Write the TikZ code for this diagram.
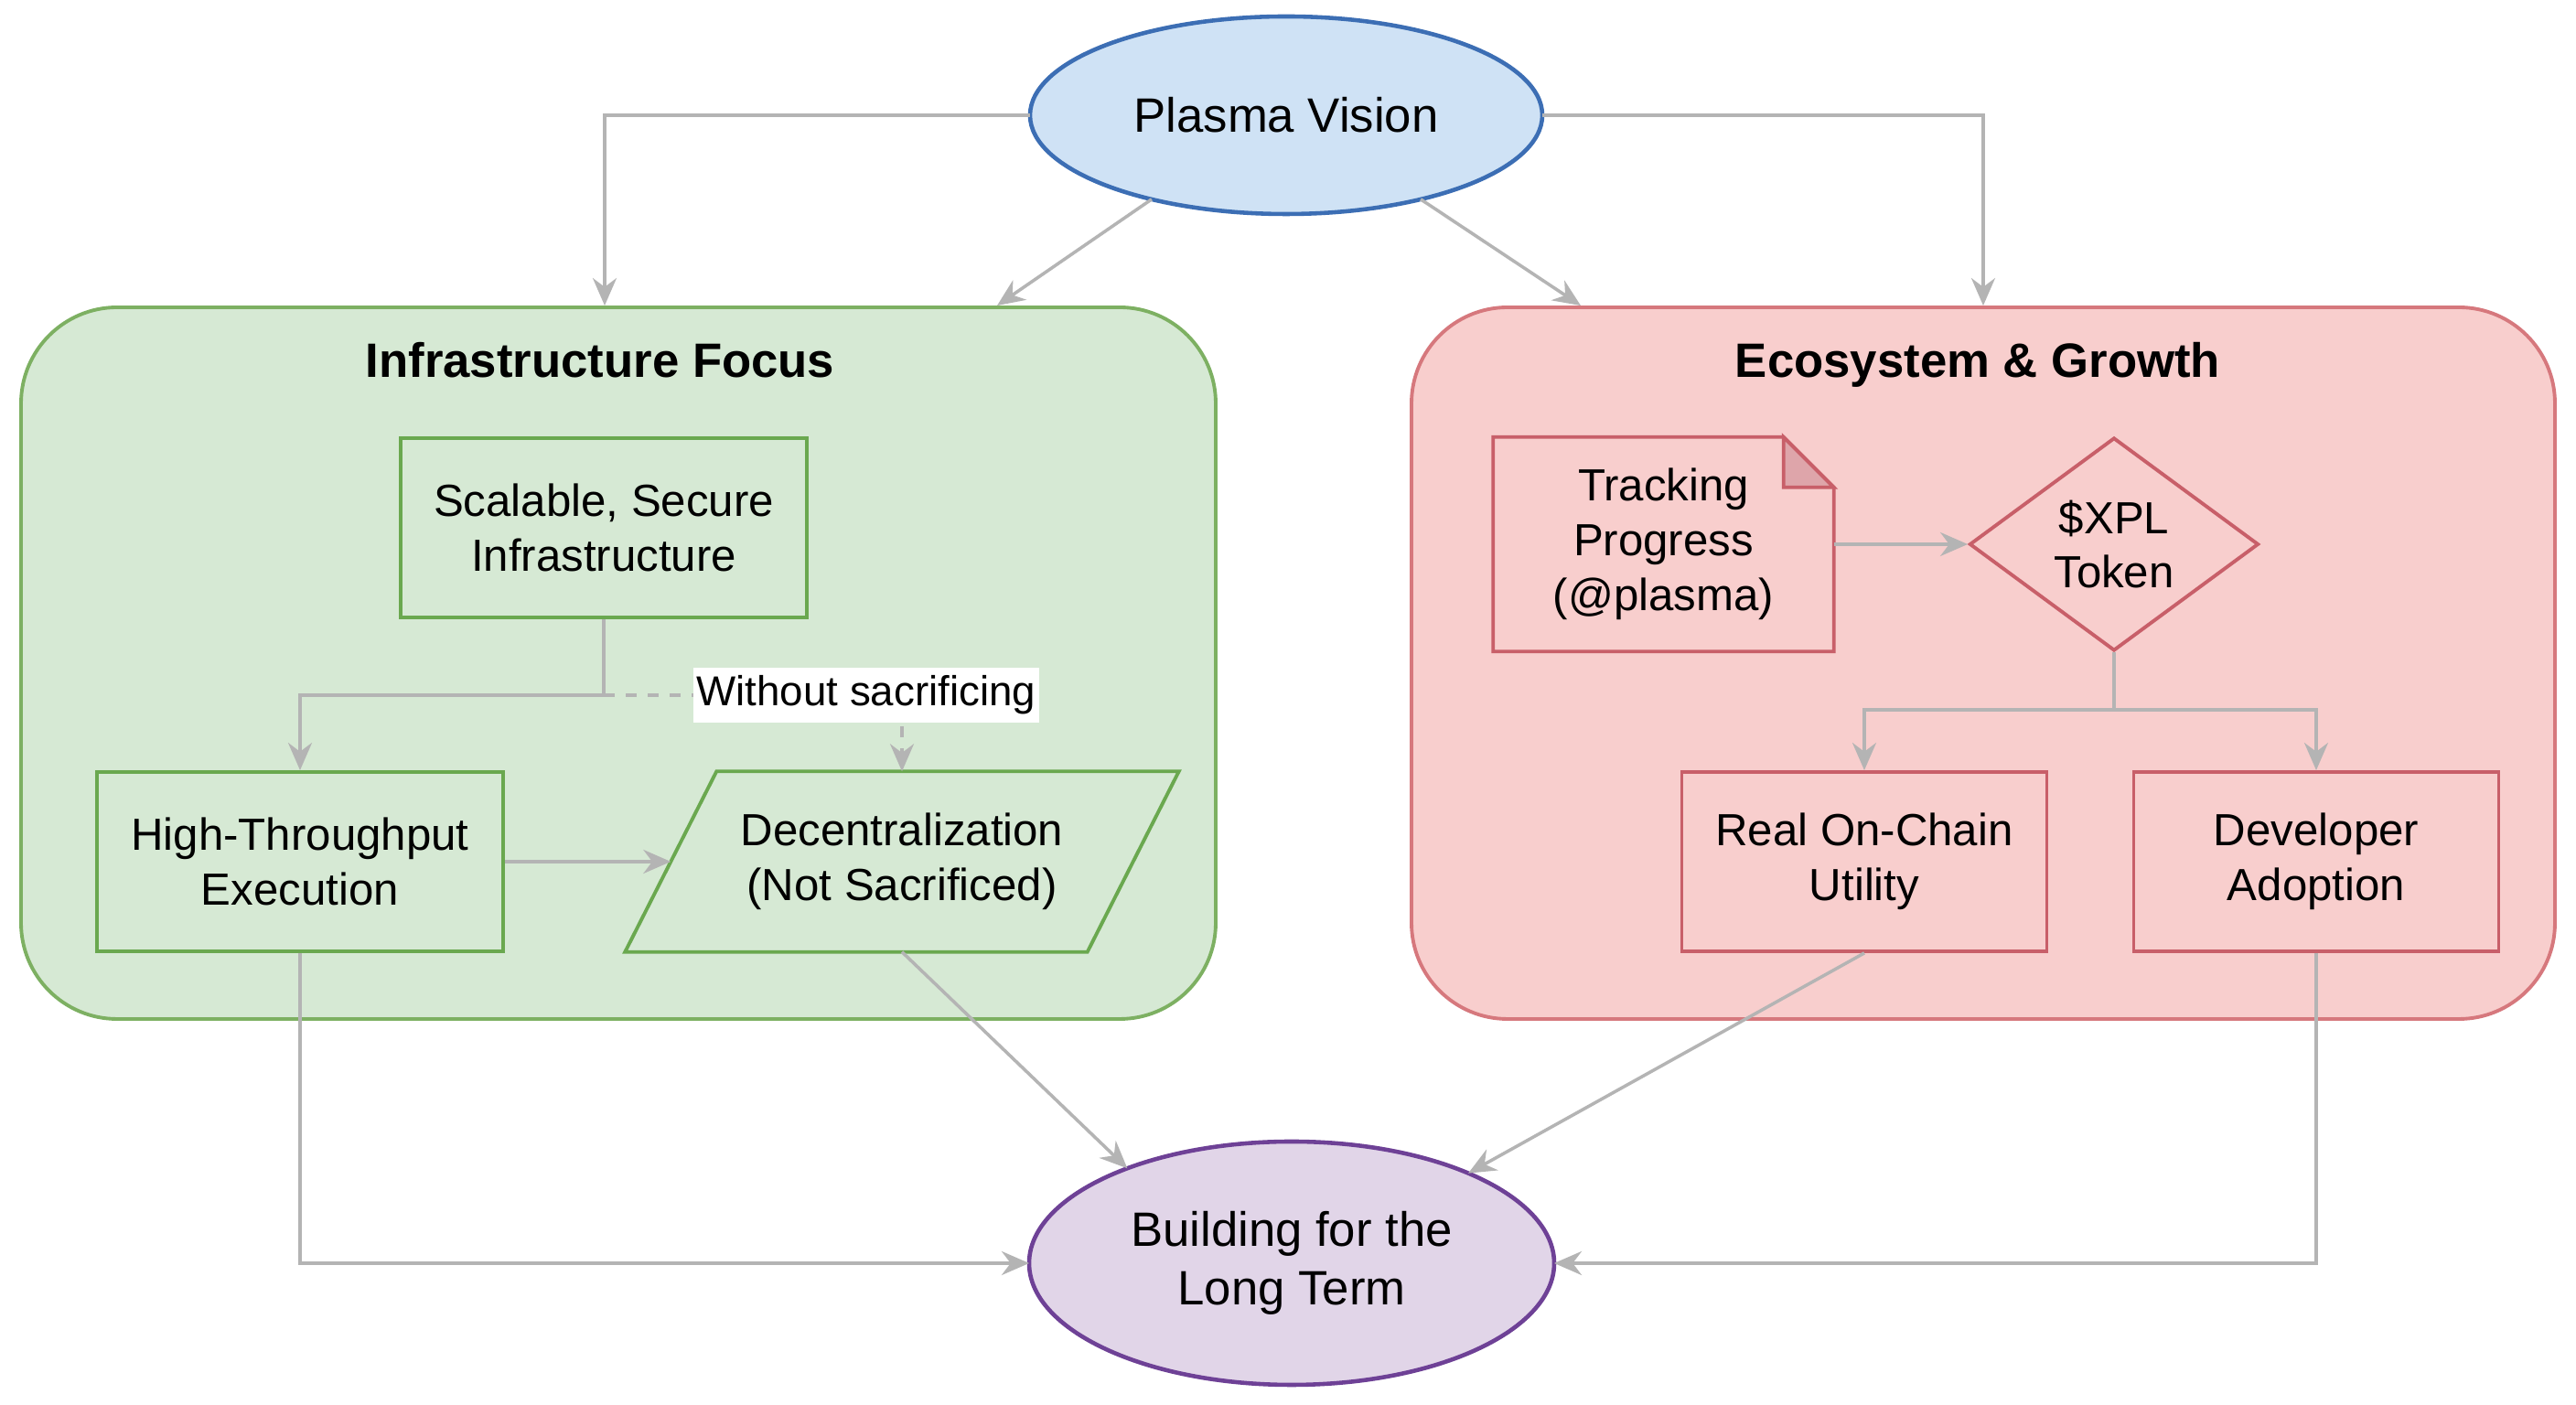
\documentclass[tikz,border=0pt]{standalone}
\usepackage{fontspec}
\setmainfont{Liberation Sans}
\usepackage{tikz}
\usetikzlibrary{arrows.meta,shapes.geometric,positioning}
\usepackage{xcolor}
\definecolor{pvblue}{RGB}{207,226,245}
\definecolor{pvblueline}{RGB}{60,110,180}
\definecolor{pvgreen}{RGB}{214,233,212}
\definecolor{pvgreenline}{RGB}{125,176,98}
\definecolor{pvgreenbox}{RGB}{106,168,79}
\definecolor{pvred}{RGB}{248,206,205}
\definecolor{pvredline}{RGB}{214,120,125}
\definecolor{pvredbox}{RGB}{200,95,105}
\definecolor{pvfold}{RGB}{222,165,170}
\definecolor{pvpurple}{RGB}{225,213,232}
\definecolor{pvpurpleline}{RGB}{110,65,150}
\definecolor{pvgray}{RGB}{180,180,180}
\tikzstyle{conn} = [line width=1pt,-{Stealth[length=3mm,width=2.6mm]},color=pvgray]
\tikzstyle{dashconn} = [conn,dash pattern=on 1.2mm off 1.2mm]
\tikzstyle{panel} = [rounded corners=1.05cm,line width=1.1pt,minimum width=13.06cm,minimum height=7.78cm]
\tikzstyle{paneltitle} = [font=\bfseries\fontsize{15}{18}\selectfont,text height=0.8em,text depth=0.25em]
\tikzstyle{greenbox} = [draw=pvgreenbox,fill=pvgreen,line width=1.1pt,align=center,font=\fontsize{14}{17}\selectfont,minimum width=4.44cm,minimum height=1.96cm]
\tikzstyle{redbox} = [draw=pvredbox,fill=pvred,line width=1.1pt,align=center,font=\fontsize{14}{17}\selectfont,minimum width=3.99cm,minimum height=1.96cm]
\tikzstyle{oval} = [ellipse,line width=1.3pt,align=center,outer sep=0pt,font=\fontsize{15}{18}\selectfont]
\tikzstyle{edgelabel} = [fill=white,text=black,inner xsep=1pt,inner ysep=2.5pt,font=\fontsize{13}{15}\selectfont]

\begin{document}
\begin{tikzpicture}
\fill[white] (0,0) rectangle (28.16,15.36);
\useasboundingbox (0,0) rectangle (28.16,15.36);

% Panels
\node[panel,draw=pvgreenline,fill=pvgreen] (infra) at (6.76,8.11) {};
\node[panel,draw=pvredline,fill=pvred,minimum width=12.50cm] (eco) at (21.68,8.11) {};
\node[paneltitle] (infratitle) at (6.56,11.33) {Infrastructure Focus};
\node[paneltitle] (ecotitle) at (21.62,11.33) {Ecosystem \& Growth};

% Vision and goal
\node[oval,draw=pvblueline,fill=pvblue,minimum width=5.60cm,minimum height=2.16cm] (vision) at (14.06,14.10) {Plasma Vision};
\node[oval,draw=pvpurpleline,fill=pvpurple,minimum width=5.74cm,minimum height=2.66cm] (goal) at (14.12,1.55) {Building for the\\Long Term};

% Infrastructure side
\node[greenbox] (scal) at (6.60,9.59) {Scalable, Secure\\Infrastructure};
\node[greenbox] (ht) at (3.28,5.94) {High-Throughput\\Execution};
\node[align=center,font=\fontsize{14}{17}\selectfont,minimum width=5.04cm,minimum height=1.96cm] (dec) at (9.86,5.94) {Decentralization\\(Not Sacrificed)};
\draw[pvgreenbox,line width=1.1pt] ([xshift=-5mm]dec.south west) -- ([xshift=5mm]dec.north west) -- ([xshift=5mm]dec.north east) -- ([xshift=-5mm]dec.south east) -- cycle;
\coordinate (elbow) at (6.60,7.76);

% Ecosystem side
\node[align=center,font=\fontsize{14}{17}\selectfont,fill=pvred,minimum width=3.71cm,minimum height=2.33cm] (track) at (18.185,9.41) {Tracking\\Progress\\(@plasma)};
\draw[pvredbox,line width=1.1pt] (track.south west) -- (track.north west) -- ([xshift=-5.5mm]track.north east) -- ([yshift=-5.5mm]track.north east) -- (track.south east) -- cycle;
\draw[pvredbox,line width=1.1pt,fill=pvfold] ([xshift=-5.5mm]track.north east) -- ([xshift=-5.5mm,yshift=-5.5mm]track.north east) -- ([yshift=-5.5mm]track.north east) -- cycle;
\node[redbox,diamond,minimum width=3.16cm,minimum height=2.33cm,inner sep=0pt] (token) at (23.11,9.41) {\$XPL\\Token};
\node[redbox] (real) at (20.38,5.94) {Real On-Chain\\Utility};
\node[redbox] (dev) at (25.32,5.94) {Developer\\Adoption};
\coordinate (split) at (23.11,7.60);

% Connectors from the vision
\draw[conn] (vision.west) -| ([xshift=-1.5mm]infra.north);
\draw[conn] (vision.212) -- ([xshift=4.14cm]infra.north);
\draw[conn] (vision.-32) -- ([xshift=-4.4cm]eco.north);
\draw[conn] (vision.east) -| (eco.north);

% Connectors inside the panels
\draw[line width=1pt,pvgray] (scal.south) -- (elbow);
\draw[conn] (elbow) -| (ht.north);
\draw[dashconn] (elbow) -| node[pos=0.44,edgelabel] (wos) {Without sacrificing} (dec.north);
\draw[conn] (ht.east) -- (dec.west);
\draw[conn] (track.east) -- (token.west);
\draw[line width=1pt,pvgray] (token.south) -- (split);
\draw[conn] (split) -| (real.north);
\draw[conn] (split) -| (dev.north);

% Connectors to the goal
\draw[conn] (ht.south) |- (goal.west);
\draw[conn] (dec.south) -- (goal.150);
\draw[conn] (real.south) -- (goal.27);
\draw[conn] (dev.south) |- (goal.east);
\end{tikzpicture}
\end{document}
